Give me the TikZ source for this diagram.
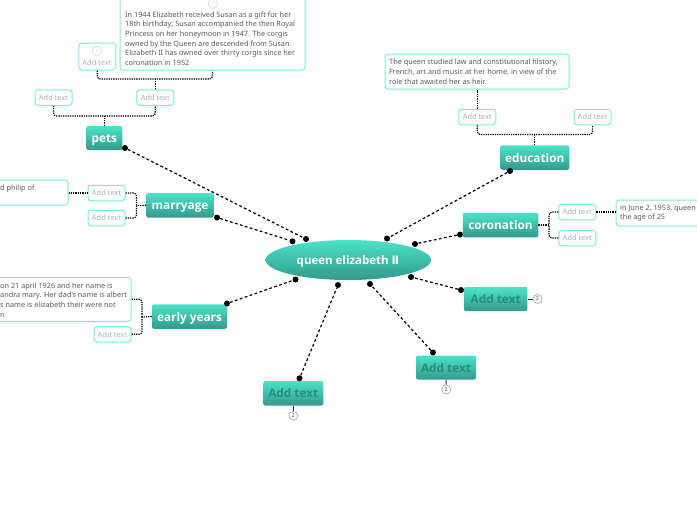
\documentclass[tikz,border=0pt]{standalone}
\usetikzlibrary{shapes.geometric}
\usepackage{fontspec}
\setmainfont{Noto Sans}
\newfontfamily\topicfnt{Open Sans}[BoldFont={Open Sans Bold}]
\newfontfamily\djv{DejaVu Sans}
\definecolor{topT}{HTML}{4CE2C9}
\definecolor{topB}{HTML}{339A8B}
\definecolor{noteB}{HTML}{7FEBDA}
\definecolor{dimT}{HTML}{2A8C7E}
\definecolor{addT}{HTML}{B2B2B2}
\definecolor{bodyT}{HTML}{5A5A5A}
\tikzset{
 topicbox/.style={rectangle,rounded corners=2pt,top color=topT,bottom color=topB,draw=none,text=white,font=\topicfnt\bfseries\fontsize{11.8}{14}\selectfont,inner sep=0pt,text height=11.3pt,text depth=2pt},
 dimtopic/.style={topicbox,text=dimT},
 notebox/.style={rectangle,rounded corners=3pt,draw=noteB,line width=1pt,fill=white,inner sep=0pt},
 addbox/.style={notebox,minimum width=37pt,minimum height=15.5pt,text=addT,font=\fontsize{7.4}{9}\selectfont},
 bodytxt/.style={anchor=north west,inner sep=0pt,align=left,text=bodyT,font=\fontsize{7.3}{9.65}\selectfont},
 dotn/.style={circle,fill=black,inner sep=0pt,minimum size=6pt},
 mainlink/.style={draw=black,line width=1.2pt,dash pattern=on 2.8pt off 2.4pt},
 sublink/.style={draw=black,line width=1.2pt,dash pattern=on 1.3pt off 1pt,rounded corners=3pt},
 countn/.style={circle,draw=addT,line width=.8pt,fill=white,inner sep=0pt,minimum size=9pt,text=bodyT,font=\fontsize{5.5}{6}\selectfont},
 iconn/.style={circle,draw=black!12,line width=.8pt,fill=white,inner sep=0pt,minimum size=9.5pt,text=addT,font=\fontsize{5}{6}\selectfont},
 stub/.style={draw=black!80,line width=1pt}
}
\begin{document}
\begin{tikzpicture}[x=1pt,y=-1pt]
\useasboundingbox (0,0) rectangle (697,520);
\clip (0,0) rectangle (697,520);
% central and topics
\node[topicbox,ellipse,minimum width=165.5pt,minimum height=40pt,text height=,text depth=] (root) at (348.3,260) {};
\node[text=white,font=\topicfnt\bfseries\fontsize{11.5}{13}\selectfont,inner sep=0pt] (rootlabel) at (348,262) {queen elizabeth {\djv\bfseries Ⅱ}};
\node[topicbox,minimum width=36pt,minimum height=24pt] (pets) at (104.3,138) {pets};
\node[topicbox,minimum width=67.5pt,minimum height=24.5pt] (mar) at (180,205.3) {marryage};
\node[topicbox,minimum width=75pt,minimum height=24.5pt] (early) at (189.5,316.5) {early years};
\node[topicbox,minimum width=69pt,minimum height=24.5pt] (edu) at (534.8,157.5) {education};
\node[topicbox,minimum width=75.5pt,minimum height=24.5pt] (cor) at (500.5,225) {coronation};
\node[dimtopic,minimum width=63.5pt,minimum height=24pt] (tr) at (495.7,299) {Add text};
\node[dimtopic,minimum width=60pt,minimum height=24pt] (tm) at (446,367.5) {Add text};
\node[dimtopic,minimum width=60pt,minimum height=24.5pt] (tl) at (293.3,393.3) {Add text};
% dots
\node[dotn] (d1a) at (125,148) {}; \node[dotn] (d1b) at (306,239) {};
\node[dotn] (d2a) at (217,217.5) {}; \node[dotn] (d2b) at (292.5,241.3) {};
\node[dotn] (d3a) at (227,303.5) {}; \node[dotn] (d3b) at (295.5,279.5) {};
\node[dotn] (d4a) at (510,171) {}; \node[dotn] (d4b) at (387,238.5) {};
\node[dotn] (d5a) at (460,234.5) {}; \node[dotn] (d5b) at (415,244) {};
\node[dotn] (d6a) at (461,290) {}; \node[dotn] (d6b) at (411,277) {};
\node[dotn] (d7a) at (433,352.5) {}; \node[dotn] (d7b) at (370,284) {};
\node[dotn] (d8a) at (299.5,378.3) {}; \node[dotn] (d8b) at (338,285) {};
\foreach \i in {1,...,8}{\draw[mainlink] (d\i a) -- (d\i b);}
% pets branch
\node[notebox,minimum width=185pt,minimum height=90pt] (bigbox) at (212.5,25) {};
\node[bodytxt] (bigtext) at (125,11.5) {In 1944 Elizabeth received Susan as a gift for her\\18th birthday; Susan accompanied the then Royal\\Princess on her honeymoon in 1947. The corgis\\owned by the Queen are descended from Susan.\\Elizabeth II has owned over thirty corgis since her\\coronation in 1952};
\node[iconn] (bigicon) at (213,3.5) {•};
\node[notebox,minimum width=37pt,minimum height=27pt] (addicon) at (97.3,56.5) {};
\node[iconn] (addiconc) at (97,51) {•};
\node[text=addT,font=\fontsize{7.4}{9}\selectfont,inner sep=0pt] (addicont) at (97,62.3) {Add text};
\node[addbox] (p1) at (53.5,97.5) {Add text};
\node[addbox] (p2) at (155.3,97.5) {Add text};
\coordinate (pj1) at (104.3,116);
\coordinate (pj2) at (155.3,79);
\draw[sublink] (p1.south) |- (pj1) -| (p2.south);
\draw[sublink,rounded corners=0pt] (pets.north) -- (pj1);
\draw[sublink] (addicon.south) |- (pj2) -| (bigbox.south);
\draw[sublink,rounded corners=0pt] (p2.north) -- (pj2);
% marryage branch
\node[notebox,minimum width=78pt,minimum height=25pt] (marnote) at (29,192.5) {};
\node[bodytxt] (martext) at (0,184.5) {d philip of};
\node[addbox] (m1) at (106.5,193) {Add text};
\node[addbox] (m2) at (106.5,218) {Add text};
\coordinate (mj) at (136.5,205.5);
\draw[sublink] (m1.east) -| (mj);
\draw[sublink] (m2.east) -| (mj);
\draw[sublink,rounded corners=0pt] (mar.west) -- (mj);
\draw[sublink,rounded corners=0pt] (marnote.east |- m1.west) -- (m1.west);
% early years branch
\node[notebox,minimum width=151pt,minimum height=44pt] (earlynote) at (55.5,299.3) {};
\node[bodytxt] (earlytext) at (0,282.3) {on 21 april 1926 and her name is\\andra mary. Her dad's name is albert\\s name is elizabeth their were not\\n};
\node[addbox] (e1) at (112.5,334.3) {Add text};
\coordinate (ej) at (142,317);
\draw[sublink] (earlynote.east) -| (ej);
\draw[sublink] (e1.east) -| (ej);
\draw[sublink,rounded corners=0pt] (early.west) -- (ej);
% education branch
\node[notebox,minimum width=184pt,minimum height=35pt] (edunote) at (477,71.5) {};
\node[bodytxt] (edutext) at (389,59.2) {The queen studied law and constitutional history,\\French, art and music at her home, in view of the\\role that awaited her as heir.};
\node[addbox] (a1) at (477.3,117) {Add text};
\node[addbox] (a2) at (592.5,117) {Add text};
\coordinate (aj) at (534.8,134.5);
\draw[sublink] (a1.south) |- (aj) -| (a2.south);
\draw[sublink,rounded corners=0pt] (edu.north) -- (aj);
\draw[sublink,rounded corners=0pt] (a1.north) -- (edunote.south -| a1.north);
% coronation branch
\node[addbox] (c1) at (577.3,212) {Add text};
\node[addbox] (c2) at (577.3,238) {Add text};
\coordinate (cj) at (549,225);
\draw[sublink] (c1.west) -| (cj);
\draw[sublink] (c2.west) -| (cj);
\draw[sublink,rounded corners=0pt] (cor.east) -- (cj);
\node[notebox,minimum width=90pt,minimum height=26pt] (cornote) at (661,213) {};
\node[bodytxt] (cortext) at (620,204.5) {in June 2, 1953, queen\\the age of 25};
\draw[sublink,rounded corners=0pt] (c1.east) -- (cornote.west |- c1.east);
% collapsed counters
\node[countn] (nr) at (537.5,299) {2};
\node[countn] (nm) at (446.3,389.5) {2};
\node[countn] (nl) at (293.3,415.7) {2};
\draw[stub] (tr.east) -- (nr);
\draw[stub] (tm.south) -- (nm);
\draw[stub] (tl.south) -- (nl);
\end{tikzpicture}
\end{document}
